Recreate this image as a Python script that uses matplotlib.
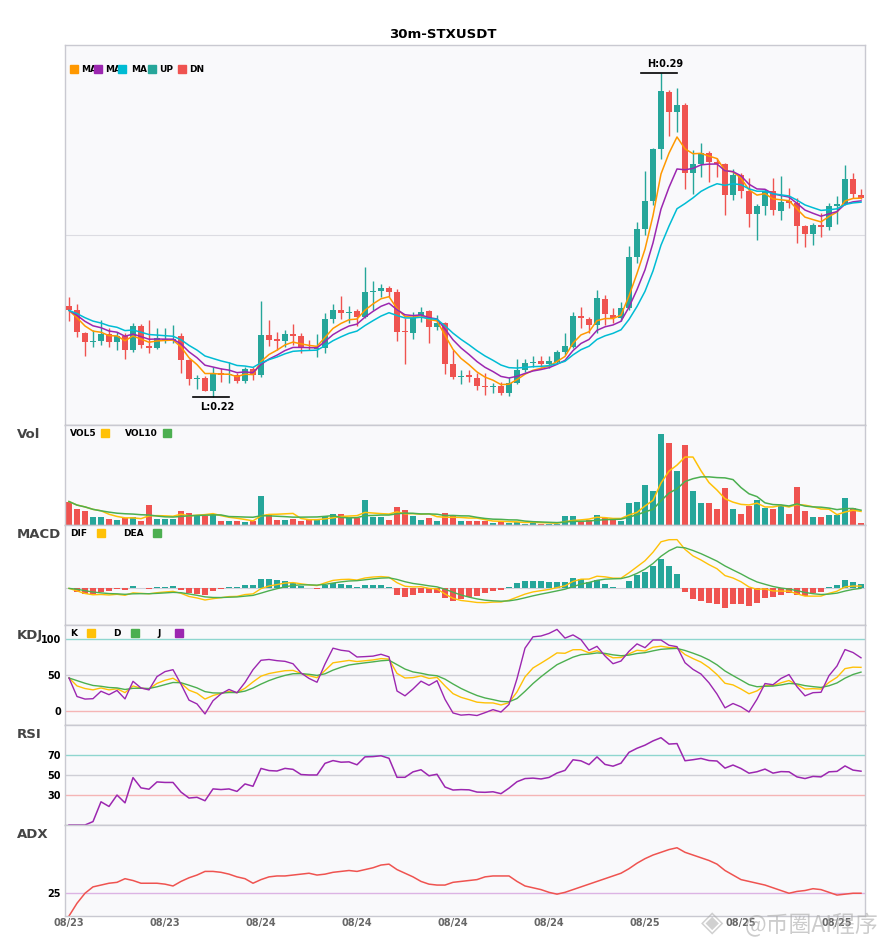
import numpy as np
import pandas as pd
import matplotlib
matplotlib.use("Agg")
import matplotlib.pyplot as plt
from matplotlib.patches import Rectangle

plt.rcParams["font.family"] = ["DejaVu Sans", "Noto Sans CJK SC"]

SYMBOL = "STXUSDT"
INTERVAL = "30m"
START = "2023-08-23 12:00"

open_ = [0.2388, 0.2380, 0.2334, 0.2316, 0.2318, 0.2332, 0.2316, 0.2328, 0.2300, 0.2348,
         0.2308, 0.2304, 0.2320, 0.2320, 0.2328, 0.2280, 0.2242, 0.2244, 0.2218, 0.2254,
         0.2250, 0.2250, 0.2238, 0.2262, 0.2250, 0.2330, 0.2322, 0.2318, 0.2332, 0.2328,
         0.2306, 0.2302, 0.2304, 0.2362, 0.2380, 0.2374, 0.2378, 0.2366, 0.2416, 0.2418,
         0.2424, 0.2416, 0.2338, 0.2334, 0.2370, 0.2378, 0.2346, 0.2354, 0.2272, 0.2246,
         0.2250, 0.2244, 0.2228, 0.2226, 0.2228, 0.2214, 0.2234, 0.2260, 0.2274, 0.2278,
         0.2272, 0.2276, 0.2296, 0.2306, 0.2368, 0.2362, 0.2350, 0.2402, 0.2370, 0.2364,
         0.2384, 0.2486, 0.2544, 0.2600, 0.2704, 0.2818, 0.2778, 0.2792, 0.2656, 0.2674,
         0.2696, 0.2678, 0.2674, 0.2612, 0.2652, 0.2620, 0.2574, 0.2590, 0.2620, 0.2580,
         0.2600, 0.2596, 0.2550, 0.2534, 0.2552, 0.2548, 0.2590, 0.2594, 0.2644, 0.2612]
high = [0.2406, 0.2392, 0.2336, 0.2340, 0.2360, 0.2344, 0.2336, 0.2334, 0.2354, 0.2352,
        0.2360, 0.2344, 0.2344, 0.2350, 0.2334, 0.2282, 0.2250, 0.2248, 0.2266, 0.2264,
        0.2276, 0.2254, 0.2266, 0.2266, 0.2398, 0.2360, 0.2336, 0.2340, 0.2352, 0.2334,
        0.2320, 0.2332, 0.2374, 0.2392, 0.2408, 0.2388, 0.2382, 0.2466, 0.2438, 0.2432,
        0.2428, 0.2422, 0.2364, 0.2376, 0.2386, 0.2380, 0.2370, 0.2356, 0.2300, 0.2260,
        0.2260, 0.2254, 0.2254, 0.2234, 0.2236, 0.2246, 0.2282, 0.2282, 0.2288, 0.2288,
        0.2288, 0.2300, 0.2334, 0.2376, 0.2386, 0.2366, 0.2420, 0.2410, 0.2384, 0.2396,
        0.2508, 0.2558, 0.2660, 0.2706, 0.2856, 0.2822, 0.2826, 0.2796, 0.2702, 0.2716,
        0.2700, 0.2686, 0.2676, 0.2664, 0.2656, 0.2646, 0.2594, 0.2624, 0.2646, 0.2650,
        0.2626, 0.2606, 0.2552, 0.2556, 0.2576, 0.2596, 0.2610, 0.2672, 0.2656, 0.2624]
low = [0.2358, 0.2326, 0.2288, 0.2306, 0.2310, 0.2306, 0.2300, 0.2282, 0.2296, 0.2304,
       0.2294, 0.2302, 0.2314, 0.2314, 0.2254, 0.2230, 0.2222, 0.2218, 0.2206, 0.2236,
       0.2234, 0.2234, 0.2234, 0.2240, 0.2246, 0.2308, 0.2300, 0.2306, 0.2310, 0.2294,
       0.2300, 0.2286, 0.2294, 0.2354, 0.2362, 0.2354, 0.2348, 0.2364, 0.2380, 0.2406,
       0.2406, 0.2318, 0.2272, 0.2322, 0.2356, 0.2314, 0.2340, 0.2252, 0.2242, 0.2232,
       0.2236, 0.2220, 0.2210, 0.2214, 0.2210, 0.2208, 0.2232, 0.2256, 0.2266, 0.2266,
       0.2264, 0.2274, 0.2290, 0.2304, 0.2344, 0.2334, 0.2334, 0.2350, 0.2354, 0.2358,
       0.2380, 0.2474, 0.2532, 0.2592, 0.2684, 0.2730, 0.2738, 0.2624, 0.2614, 0.2648,
       0.2638, 0.2648, 0.2572, 0.2602, 0.2606, 0.2548, 0.2520, 0.2572, 0.2572, 0.2562,
       0.2586, 0.2514, 0.2506, 0.2510, 0.2526, 0.2542, 0.2554, 0.2592, 0.2606, 0.2604]
close = [0.2380, 0.2336, 0.2316, 0.2318, 0.2332, 0.2316, 0.2328, 0.2300, 0.2348, 0.2310,
         0.2304, 0.2324, 0.2322, 0.2322, 0.2280, 0.2242, 0.2244, 0.2218, 0.2254, 0.2250,
         0.2252, 0.2238, 0.2262, 0.2250, 0.2330, 0.2320, 0.2318, 0.2332, 0.2328, 0.2306,
         0.2304, 0.2304, 0.2362, 0.2380, 0.2374, 0.2376, 0.2366, 0.2416, 0.2418, 0.2424,
         0.2416, 0.2336, 0.2336, 0.2364, 0.2376, 0.2346, 0.2354, 0.2272, 0.2246, 0.2248,
         0.2246, 0.2228, 0.2226, 0.2228, 0.2214, 0.2234, 0.2260, 0.2274, 0.2276, 0.2272,
         0.2278, 0.2296, 0.2308, 0.2368, 0.2364, 0.2350, 0.2404, 0.2372, 0.2364, 0.2384,
         0.2486, 0.2544, 0.2600, 0.2704, 0.2820, 0.2778, 0.2792, 0.2656, 0.2674, 0.2696,
         0.2678, 0.2674, 0.2612, 0.2652, 0.2620, 0.2574, 0.2590, 0.2620, 0.2582, 0.2598,
         0.2596, 0.2550, 0.2534, 0.2552, 0.2548, 0.2590, 0.2594, 0.2644, 0.2614, 0.2606]
volume = [233, 163, 143, 83, 83, 63, 53, 73, 83, 43,
          203, 63, 63, 63, 143, 123, 93, 93, 113, 43,
          43, 43, 33, 43, 293, 113, 53, 53, 63, 43,
          53, 53, 93, 113, 113, 73, 73, 253, 83, 83,
          53, 183, 153, 93, 53, 73, 43, 123, 93, 43,
          43, 43, 43, 23, 33, 23, 33, 13, 33, 13,
          13, 13, 93, 93, 43, 53, 103, 73, 53, 43,
          223, 233, 393, 333, 903, 813, 533, 793, 333, 223,
          223, 163, 363, 163, 113, 193, 253, 173, 163, 193,
          113, 373, 143, 83, 83, 103, 103, 273, 173, 23]
# ADX
adx = [0, 14, 25, 32, 34, 36, 37, 41, 39, 36,
       36, 36, 35, 33, 38, 42, 45, 49, 49, 48,
       46, 43, 41, 36, 40, 43, 44, 44, 45, 46,
       47, 45, 46, 48, 49, 50, 49, 51, 53, 56,
       57, 51, 47, 43, 38, 35, 34, 34, 37, 38,
       39, 40, 43, 44, 44, 44, 38, 33, 31, 29,
       26, 24, 26, 29, 32, 35, 38, 41, 44, 47,
       52, 58, 63, 67, 70, 73, 75, 70, 67, 64,
       61, 57, 50, 45, 40, 38, 36, 34, 31, 28,
       25, 27, 28, 30, 29, 26, 23, 24, 25, 25]

MA_SPANS = (5, 8, 13)
MACD_P = (6, 13, 5)

UP, DN = "#26a69a", "#ef5350"
C_MA = ["#ff9800", "#9c27b0", "#00bcd4"]
C_Y, C_G, C_P = "#ffc107", "#4caf50", "#9c27b0"
BG = "#f9f9fb"

df = pd.DataFrame({"open": open_, "high": high, "low": low, "close": close,
                   "vol": volume, "adx": adx},
                  index=pd.date_range(START, periods=len(close), freq="30min"))
n = len(df)
x = np.arange(n)
o, h, l, c, v = (df[k] for k in ["open", "high", "low", "close", "vol"])
colors = [UP if cc >= oo else DN for oo, cc in zip(o, c)]

# ---------------- indicators ----------------
ema = [c.ewm(span=p, adjust=False).mean() for p in MA_SPANS]
vma5 = v.rolling(5, min_periods=1).mean()
vma10 = v.rolling(10, min_periods=1).mean()

fast, slow, sig = MACD_P
dif = c.ewm(span=fast, adjust=False).mean() - c.ewm(span=slow, adjust=False).mean()
dea = dif.ewm(span=sig, adjust=False).mean()
hist = 2 * (dif - dea)

llv = l.rolling(9, min_periods=1).min()
hhv = h.rolling(9, min_periods=1).max()
rsv = ((c - llv) / (hhv - llv) * 100).fillna(50)
K = rsv.ewm(com=2, adjust=False).mean()
D = K.ewm(com=2, adjust=False).mean()
J = 3 * K - 2 * D

dlt = c.diff()
gain = dlt.clip(lower=0).ewm(alpha=1 / 14).mean()
loss = (-dlt.clip(upper=0)).ewm(alpha=1 / 14).mean()
rsi = (100 * gain / (gain + loss)).fillna(0)

# ---------------- layout ----------------
W, H = 885, 950
fig = plt.figure(figsize=(W / 100, H / 100), dpi=100)


def box(top, bottom):
    return [65 / W, 1 - bottom / H, 800 / W, (bottom - top) / H]


ax0 = fig.add_axes(box(45, 425))
ax1 = fig.add_axes(box(425, 525))
ax2 = fig.add_axes(box(525, 625))
ax3 = fig.add_axes(box(625, 725))
ax4 = fig.add_axes(box(725, 825))
ax5 = fig.add_axes(box(825, 916))
axes = [ax0, ax1, ax2, ax3, ax4, ax5]
for ax in axes:
    ax.set_facecolor(BG)
    for s in ax.spines.values():
        s.set_color("#c9c9d1")
        s.set_linewidth(1)
    ax.spines["bottom"].set_color("#aaaaaa")
    ax.tick_params(length=0, labelsize=7, pad=3, labelbottom=False)
    ax.set_yticks([])
    ax.set_xticks(x[::12])
    ax.set_xlim(-0.5, n - 0.5)
ax5.spines["bottom"].set_color("#c9c9d1")

# main candles
lo, hi = l.min(), h.max()
rng = hi - lo
ax0.vlines(x, l, h, colors=colors, lw=1, zorder=2)
body = np.maximum((c - o).abs(), rng * 0.004)
ax0.bar(x, body, bottom=np.minimum(o, c), width=0.7, color=colors, zorder=3)
for line, col in zip(ema, C_MA):
    ax0.plot(x, line, color=col, lw=1.1, zorder=4)
ax0.set_ylim(lo - rng * 0.085, hi + rng * 0.085)
ax0.axhline((lo + hi) / 2, color="#dcdce2", lw=0.8, zorder=0)
ih, il = int(np.argmax(h)), int(np.argmin(l))
ax0.plot([ih - 2.5, ih + 2], [hi, hi], color="black", lw=1.2, zorder=5)
ax0.text(ih + 0.5, hi + rng * 0.01, f"H:{hi:.2f}", ha="center", va="bottom",
         fontsize=7, fontweight="bold")
ax0.plot([il - 2.5, il + 2], [lo, lo], color="black", lw=1.2, zorder=5)
ax0.text(il + 0.5, lo - rng * 0.015, f"L:{lo:.2f}", ha="center", va="top",
         fontsize=7, fontweight="bold")

# volume
ax1.bar(x, v, width=0.75, color=colors)
ax1.plot(x, vma5, color=C_Y, lw=1.1)
ax1.plot(x, vma10, color=C_G, lw=1.1)
ax1.set_ylim(0, v.max() * 1.1)

# macd
ax2.axhline(0, color="#d0d0d8", lw=0.8, zorder=0)
ax2.bar(x, hist, width=0.7, color=[UP if hv >= 0 else DN for hv in hist])
ax2.plot(x, dif, color=C_Y, lw=1)
ax2.plot(x, dea, color=C_G, lw=1)
mtop = max(dif.max(), dea.max(), hist.max())
mbot = min(dif.min(), dea.min(), hist.min())
ax2.set_ylim(mbot * 1.9, mtop * 1.3)

# kdj
for yv, col in [(100, "#8fd6cf"), (50, "#cfcfd6"), (0, "#f5b5b5")]:
    ax3.axhline(yv, color=col, lw=1, zorder=0)
ax3.plot(x, K, color=C_Y, lw=1)
ax3.plot(x, D, color=C_G, lw=1)
ax3.plot(x, J, color=C_P, lw=1)
ax3.set_ylim(-20, 120)
ax3.set_yticks([0, 50, 100])

# rsi
for yv, col in [(70, "#8fd6cf"), (50, "#cfcfd6"), (30, "#f5b5b5")]:
    ax4.axhline(yv, color=col, lw=1, zorder=0)
ax4.plot(x, rsi, color=C_P, lw=1.1)
ax4.set_ylim(0, 100)
ax4.set_yticks([30, 50, 70])

# adx
ax5.axhline(25, color="#dcb4e4", lw=1, zorder=0)
ax5.plot(x, df["adx"], color=DN, lw=1.1)
ax5.set_ylim(0, 100)
ax5.set_yticks([25])

for ax in (ax3, ax4, ax5):
    plt.setp(ax.get_yticklabels(), fontweight="bold")

ax5.tick_params(axis="x", labelbottom=True, labelsize=7, pad=1.5, labelcolor="#666666")
ax5.set_xticklabels(df.index[::12].strftime("%m/%d"), fontweight="bold")


# ---------------- keys and labels (pixel placed) ----------------
def fx(px):
    return px / W


def fy(py):
    return 1 - py / H


def key(px, py, col):
    fig.patches.append(Rectangle((fx(px), fy(py + 4)), 8 / W, 8 / H, color=col,
                                 transform=fig.transFigure, figure=fig, zorder=10))


def ktext(px, py, s):
    fig.text(fx(px), fy(py), s, fontsize=6.5, fontweight="bold", va="center", ha="left",
             zorder=9)


for px, s in [(81, "MA"), (105, "MA"), (131, "MA"), (159, "UP"), (189, "DN")]:
    ktext(px, 69, s)
for px, col in zip([70, 94, 118, 148, 178], C_MA + [UP, DN]):
    key(px, 69, col)

for px, s in [(70, "VOL5"), (125, "VOL10")]:
    ktext(px, 433, s)
key(101, 433, C_Y)
key(163, 433, C_G)

for px, s in [(70, "DIF"), (123, "DEA")]:
    ktext(px, 533, s)
key(97, 533, C_Y)
key(153, 533, C_G)

for px, s in [(70, "K"), (113, "D"), (157, "J")]:
    ktext(px, 633, s)
key(87, 633, C_Y)
key(131, 633, C_G)
key(175, 633, C_P)

for py, s in [(434, "Vol"), (535, "MACD"), (635, "KDJ"), (735, "RSI"), (835, "ADX")]:
    fig.text(fx(17), fy(py), s, fontsize=9.5, fontweight="bold", color="#444444",
             va="center", ha="left")

fig.text(0.5, fy(34), f"{INTERVAL}-{SYMBOL}", ha="center", va="center",
         fontsize=9.5, fontweight="bold")

# watermark (semi-transparent, sits over the last tick labels as in the source)
fig.text(fx(712), fy(923), "◈", ha="center", va="center", fontsize=21,
         family="DejaVu Sans", color="#aaaaaa", alpha=0.55)
fig.text(fx(878), fy(925), "@币圈AI程序", ha="right", va="center", fontsize=16.5,
         family=["Noto Sans CJK SC", "DejaVu Sans"], color="#aaaaaa", alpha=0.6)

fig.savefig("out.png", dpi=100, facecolor="white")
